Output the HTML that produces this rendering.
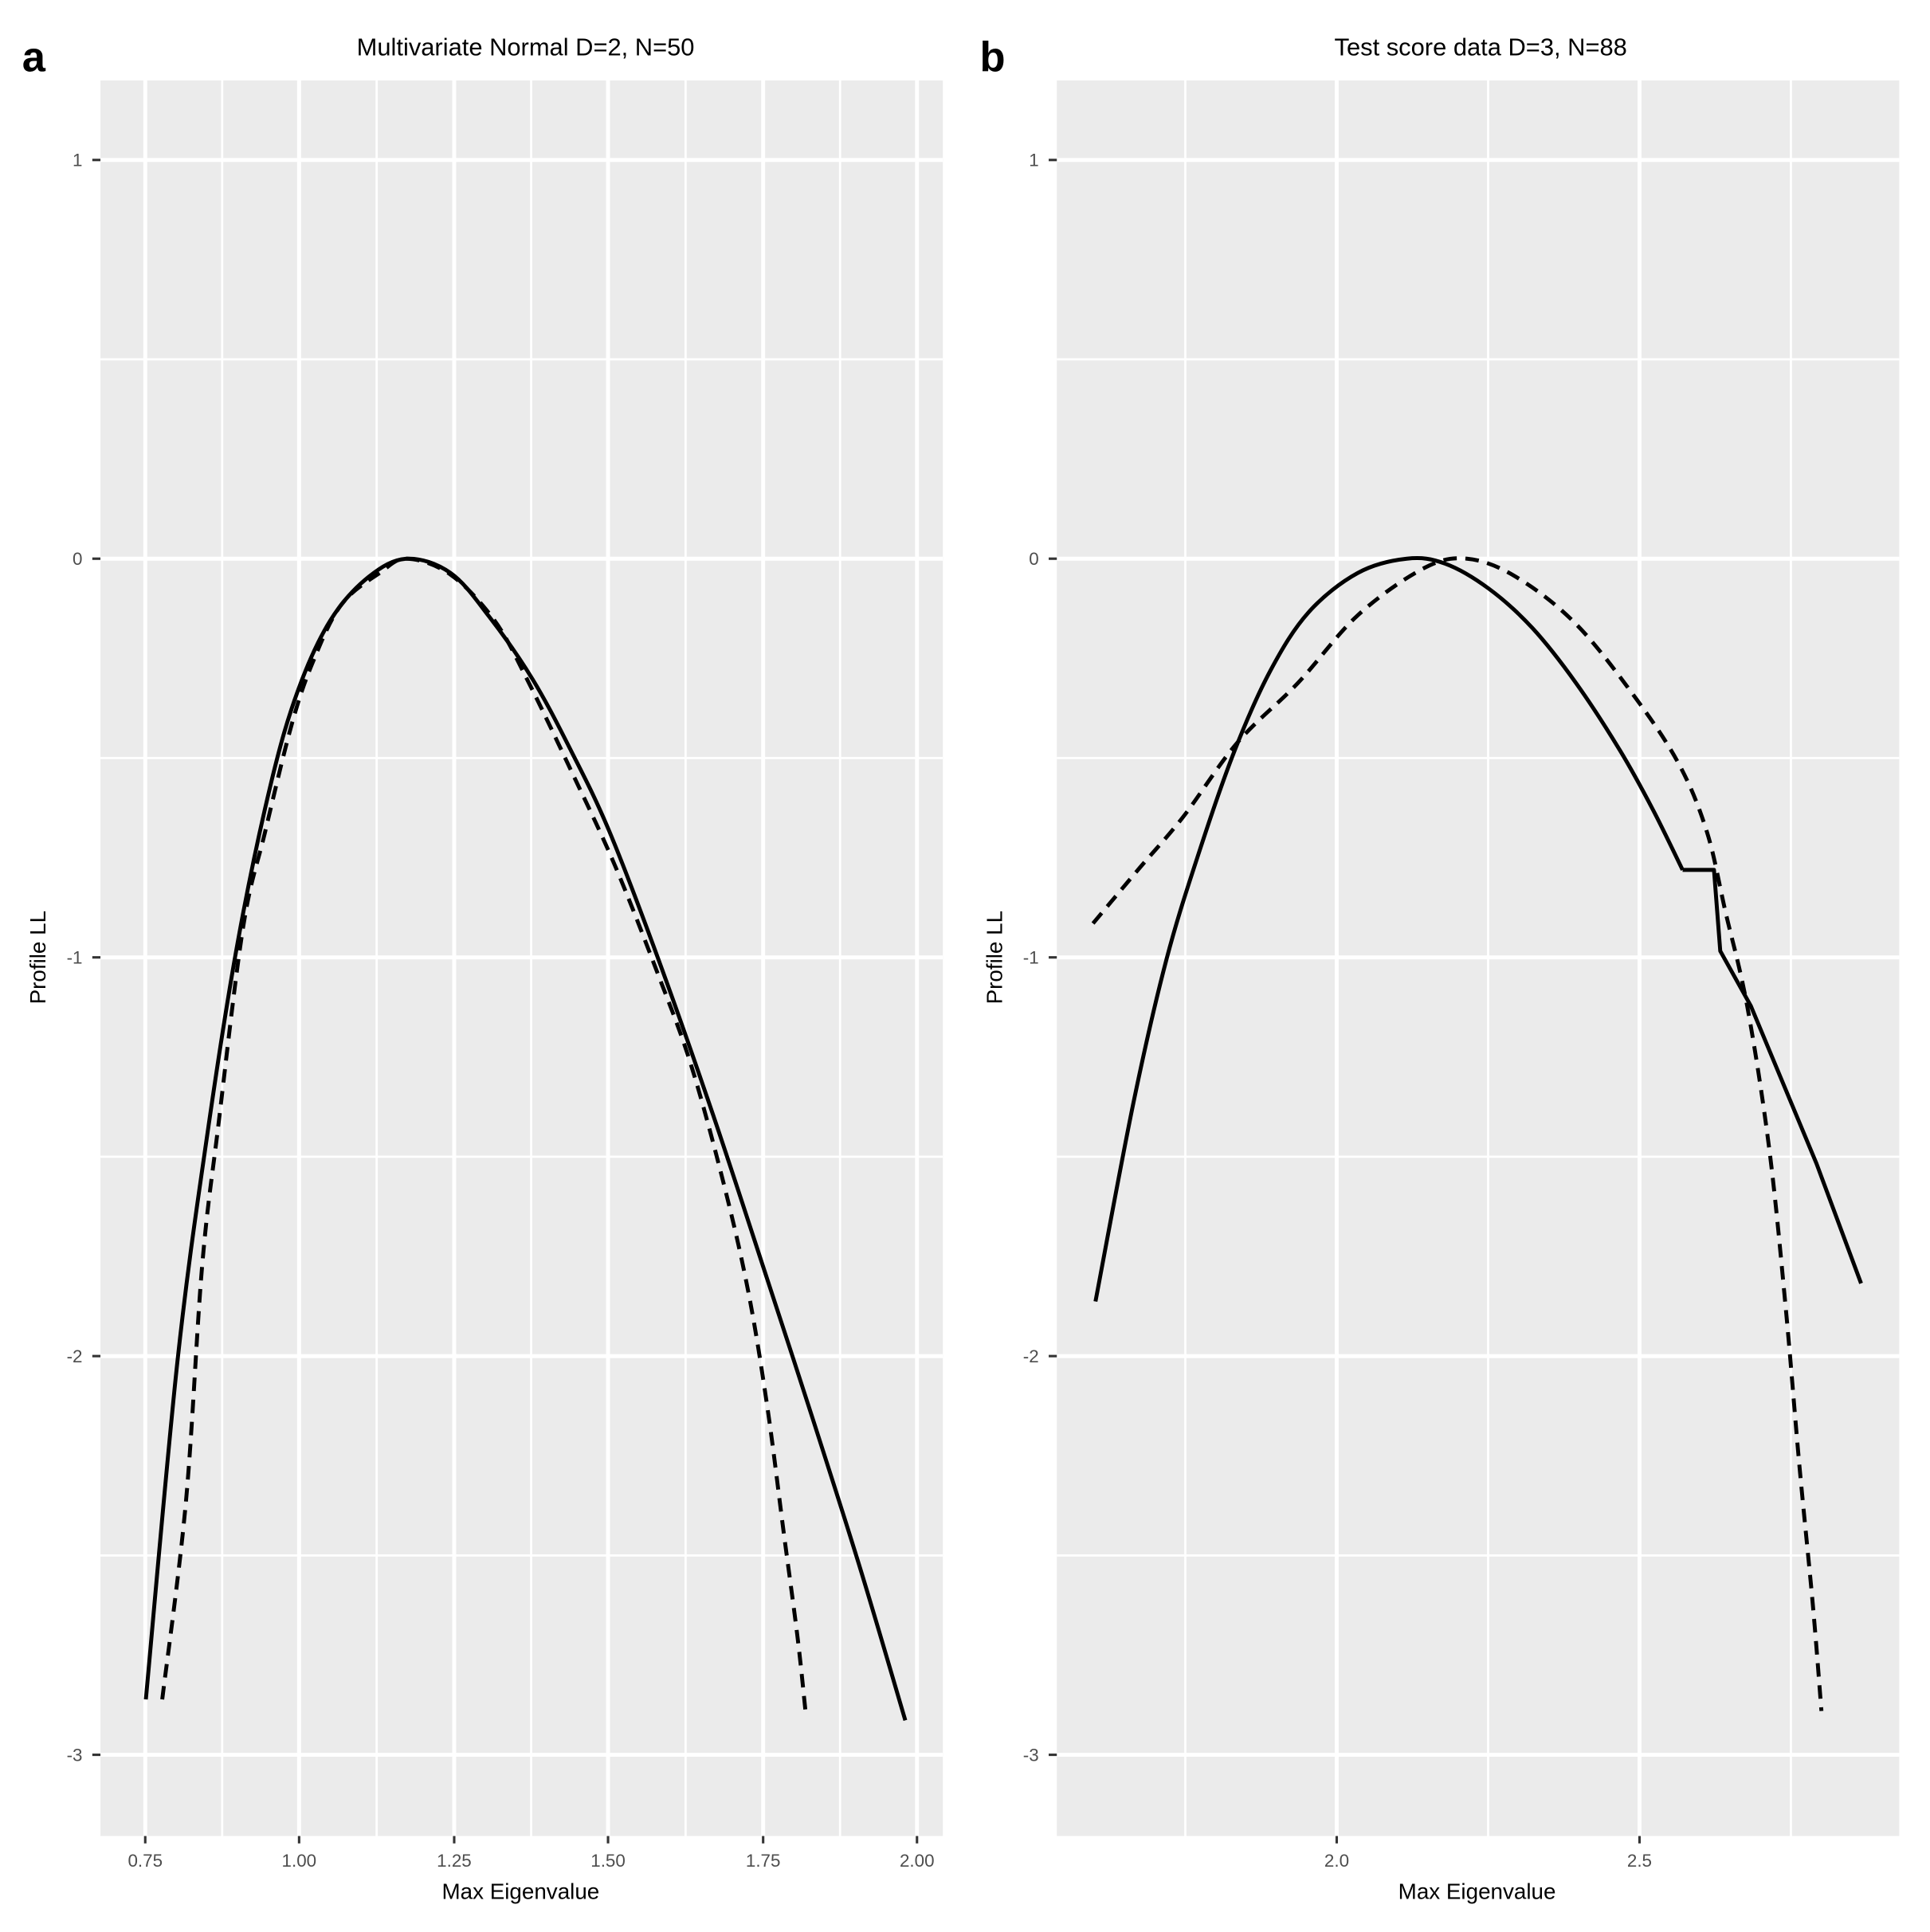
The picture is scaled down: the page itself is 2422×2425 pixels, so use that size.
<!DOCTYPE html>
<html><head><meta charset="utf-8"><style>
html,body{margin:0;padding:0;background:#fff}
svg{display:block}
text{font-family:"Liberation Sans",Arial,sans-serif}
</style></head><body>
<svg id="s" width="2422" height="2425" viewBox="0 0 1568 1570" preserveAspectRatio="none" xmlns="http://www.w3.org/2000/svg">
<rect width="1568" height="1570" fill="#fff"/>
<!-- Panel a -->
<rect x="81.6" y="65.4" width="684.4" height="1426.6" fill="#ebebeb"/>
<g stroke="#fff" stroke-width="1.8">
<line x1="180.5" y1="65.4" x2="180.5" y2="1492"/><line x1="306" y1="65.4" x2="306" y2="1492"/>
<line x1="431.5" y1="65.4" x2="431.5" y2="1492"/><line x1="557" y1="65.4" x2="557" y2="1492"/>
<line x1="682.5" y1="65.4" x2="682.5" y2="1492"/>
<line x1="81.6" y1="292" x2="766" y2="292"/><line x1="81.6" y1="616" x2="766" y2="616"/>
<line x1="81.6" y1="940" x2="766" y2="940"/><line x1="81.6" y1="1264" x2="766" y2="1264"/>
</g>
<g stroke="#fff" stroke-width="3.2">
<line x1="118" y1="65.4" x2="118" y2="1492"/><line x1="243" y1="65.4" x2="243" y2="1492"/>
<line x1="369" y1="65.4" x2="369" y2="1492"/><line x1="494" y1="65.4" x2="494" y2="1492"/>
<line x1="620" y1="65.4" x2="620" y2="1492"/><line x1="745" y1="65.4" x2="745" y2="1492"/>
<line x1="81.6" y1="130" x2="766" y2="130"/><line x1="81.6" y1="454" x2="766" y2="454"/>
<line x1="81.6" y1="778" x2="766" y2="778"/><line x1="81.6" y1="1102" x2="766" y2="1102"/>
<line x1="81.6" y1="1426" x2="766" y2="1426"/>
</g>
<g stroke="#333" stroke-width="2">
<line x1="75" y1="130" x2="81.6" y2="130"/><line x1="75" y1="454" x2="81.6" y2="454"/>
<line x1="75" y1="778" x2="81.6" y2="778"/><line x1="75" y1="1102" x2="81.6" y2="1102"/>
<line x1="75" y1="1426" x2="81.6" y2="1426"/>
<line x1="118" y1="1492" x2="118" y2="1498"/><line x1="243" y1="1492" x2="243" y2="1498"/>
<line x1="369" y1="1492" x2="369" y2="1498"/><line x1="494" y1="1492" x2="494" y2="1498"/>
<line x1="620" y1="1492" x2="620" y2="1498"/><line x1="745" y1="1492" x2="745" y2="1498"/>
</g>
<g fill="#4d4d4d" font-size="14.5" text-anchor="end">
<text x="67" y="135">1</text><text x="67" y="459">0</text><text x="67" y="783">-1</text>
<text x="67" y="1107">-2</text><text x="67" y="1431">-3</text>
</g>
<g fill="#4d4d4d" font-size="14.5" text-anchor="middle">
<text x="118" y="1517">0.75</text><text x="243" y="1517">1.00</text><text x="369" y="1517">1.25</text>
<text x="494" y="1517">1.50</text><text x="620" y="1517">1.75</text><text x="745" y="1517">2.00</text>
</g>
<text x="427" y="45" font-size="20" text-anchor="middle">Multivariate Normal D=2, N=50</text>
<text x="423" y="1543" font-size="18" text-anchor="middle">Max Eigenvalue</text>
<text transform="translate(37,778) rotate(-90)" font-size="18" text-anchor="middle">Profile LL</text>
<text x="18" y="58" font-size="34" font-weight="bold">a</text>
<g fill="none" stroke="#000" stroke-width="3.2" stroke-linejoin="round">
<polyline class="sm" points="118.5,1381 144.3,1105 168.7,920 193,766.4 219.7,638.4 241.9,561.6 268.5,504 299.5,468.8 330.6,454 366,465.6 397.2,500.8 432.7,552 463.7,609.6 494.8,675 534.7,779 579,905 623.5,1040 660,1152 699,1275 735.5,1398"/>
<polyline class="sm" stroke-dasharray="11,7" points="131.8,1381 151,1221 164.2,1029 177.5,913.6 197.5,753.6 215.2,676.8 237.4,587.2 255,536 277.4,491.2 308.4,465.6 330.6,454 366,466.9 401.6,504 428.2,552 463.7,625.6 499.2,702.4 534.7,792 561.3,865 588,962 608,1050 623.5,1144 636.8,1246 647.9,1330 654.4,1390.4"/>
</g>
<!-- Panel b -->
<rect x="858.6" y="65.4" width="684.4" height="1426.6" fill="#ebebeb"/>
<g stroke="#fff" stroke-width="1.8">
<line x1="963" y1="65.4" x2="963" y2="1492"/><line x1="1209" y1="65.4" x2="1209" y2="1492"/>
<line x1="1455" y1="65.4" x2="1455" y2="1492"/>
<line x1="858.6" y1="292" x2="1543" y2="292"/><line x1="858.6" y1="616" x2="1543" y2="616"/>
<line x1="858.6" y1="940" x2="1543" y2="940"/><line x1="858.6" y1="1264" x2="1543" y2="1264"/>
</g>
<g stroke="#fff" stroke-width="3.2">
<line x1="1086" y1="65.4" x2="1086" y2="1492"/><line x1="1332" y1="65.4" x2="1332" y2="1492"/>
<line x1="858.6" y1="130" x2="1543" y2="130"/><line x1="858.6" y1="454" x2="1543" y2="454"/>
<line x1="858.6" y1="778" x2="1543" y2="778"/><line x1="858.6" y1="1102" x2="1543" y2="1102"/>
<line x1="858.6" y1="1426" x2="1543" y2="1426"/>
</g>
<g stroke="#333" stroke-width="2">
<line x1="852" y1="130" x2="858.6" y2="130"/><line x1="852" y1="454" x2="858.6" y2="454"/>
<line x1="852" y1="778" x2="858.6" y2="778"/><line x1="852" y1="1102" x2="858.6" y2="1102"/>
<line x1="852" y1="1426" x2="858.6" y2="1426"/>
<line x1="1086" y1="1492" x2="1086" y2="1498"/><line x1="1332" y1="1492" x2="1332" y2="1498"/>
</g>
<g fill="#4d4d4d" font-size="14.5" text-anchor="end">
<text x="844" y="135">1</text><text x="844" y="459">0</text><text x="844" y="783">-1</text>
<text x="844" y="1107">-2</text><text x="844" y="1431">-3</text>
</g>
<g fill="#4d4d4d" font-size="14.5" text-anchor="middle">
<text x="1086" y="1517">2.0</text><text x="1332" y="1517">2.5</text>
</g>
<text x="1203" y="45" font-size="20" text-anchor="middle">Test score data D=3, N=88</text>
<text x="1200" y="1543" font-size="18" text-anchor="middle">Max Eigenvalue</text>
<text transform="translate(814,778) rotate(-90)" font-size="18" text-anchor="middle">Profile LL</text>
<text x="796" y="58" font-size="34" font-weight="bold">b</text>
<g fill="none" stroke="#000" stroke-width="3.2" stroke-linejoin="round">
<polyline class="sm" points="890,1057.6 921.2,894.4 947.8,779.2 975,690 1003.2,609.6 1032.1,545 1063.1,497.6 1103.1,465.6 1143,454 1174,458 1209.6,478.4 1245,510.4 1280.5,555.2 1316,609.6 1342.7,657.6 1367,706.9"/>
<polyline points="1367,706.9 1392.5,706.9 1397.6,772.8 1422.5,817.6 1475.8,945.6 1512,1042.9"/>
<polyline class="sm" stroke-dasharray="11,7" points="888,750.4 925.6,705.6 961.1,664 1005.5,603.2 1054.3,555.2 1103.1,500 1156.3,462 1191.8,454 1231.7,468.8 1280.5,507.2 1329.4,568 1364.8,622.4 1387,676.8 1401.8,740.8 1419.5,817.6 1437.3,932.8 1450.6,1060.8 1461.7,1188.8 1472.8,1304 1479.8,1390.4"/>
</g>
</svg>
<script>
document.querySelectorAll('polyline.sm').forEach(function(pl){
  var p=pl.getAttribute('points').trim().split(/\s+/).map(function(s){return s.split(',').map(Number);});
  var d='M'+p[0][0]+','+p[0][1];
  for(var i=0;i<p.length-1;i++){
    var p0=p[i-1]||p[i],p1=p[i],p2=p[i+1],p3=p[i+2]||p2;
    var c1x=p1[0]+(p2[0]-p0[0])/6,c1y=p1[1]+(p2[1]-p0[1])/6;
    var c2x=p2[0]-(p3[0]-p1[0])/6,c2y=p2[1]-(p3[1]-p1[1])/6;
    d+=' C'+c1x+','+c1y+' '+c2x+','+c2y+' '+p2[0]+','+p2[1];
  }
  var path=document.createElementNS('http://www.w3.org/2000/svg','path');
  path.setAttribute('d',d);
  if(pl.getAttribute('stroke-dasharray'))path.setAttribute('stroke-dasharray',pl.getAttribute('stroke-dasharray'));
  pl.parentNode.replaceChild(path,pl);
});
</script>
</body></html>
